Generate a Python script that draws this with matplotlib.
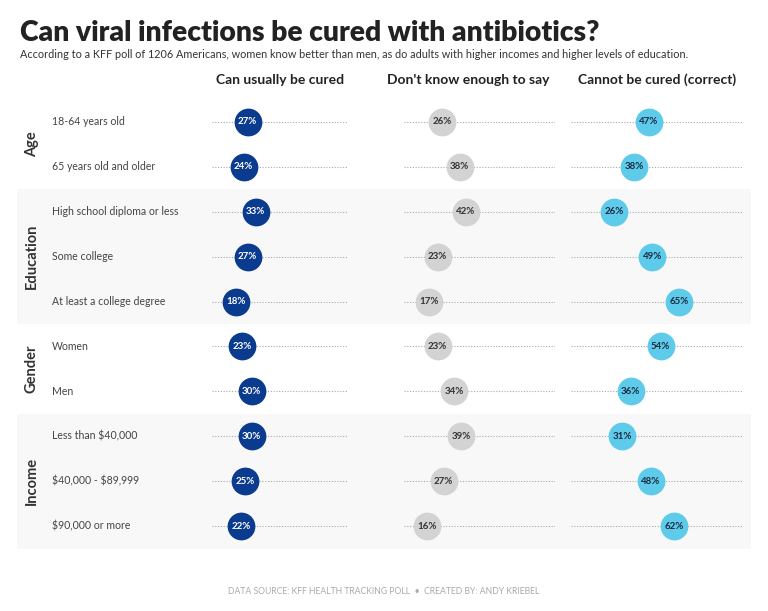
import matplotlib
matplotlib.use("Agg")
import matplotlib.pyplot as plt

plt.rcParams['font.family'] = ['Lato', 'DejaVu Sans']
plt.rcParams['text.parse_math'] = False

groups = ["Age", "Education", "Gender", "Income"]
group_sizes = [2, 3, 2, 3]
categories = ["18-64 years old", "65 years old and older",
              "High school diploma or less", "Some college", "At least a college degree",
              "Women", "Men",
              "Less than $40,000", "$40,000 - $89,999", "$90,000 or more"]
can_be_cured = [27, 24, 33, 27, 18, 23, 30, 30, 25, 22]
dont_know = [26, 38, 42, 23, 17, 23, 34, 39, 27, 16]
cannot_be_cured = [47, 38, 26, 49, 65, 54, 36, 31, 48, 62]
columns = ["Can usually be cured", "Don't know enough to say", "Cannot be cured (correct)"]

W, H = 768, 611
fig = plt.figure(figsize=(W / 100, H / 100), dpi=100)
fig.patch.set_facecolor('white')

def fx(px):
    return px / W

def fy(py):
    return 1 - py / H

top_px, bot_px = 99.5, 548.5
n = len(categories)

# background axes
bg = fig.add_axes([fx(17), fy(bot_px), fx(751) - fx(17), fy(top_px) - fy(bot_px)])
bg.set_xlim(0, 1)
bg.set_ylim(n - 0.5, -0.5)
bg.axis('off')
start = 0
for gi, (g, s) in enumerate(zip(groups, group_sizes)):
    if gi % 2 == 1:
        bg.axhspan(start - 0.5, start + s - 0.5, color='#f8f8f8', lw=0, zorder=0)
    bg.text((32 - 17) / (751 - 17), start + (s - 1) / 2, g, rotation=90,
            ha='center', va='center', fontsize=10.5, fontweight='bold', color='#333333')
    start += s
for i, c in enumerate(categories):
    bg.text((52 - 17) / (751 - 17), i, c, ha='left', va='center', fontsize=7.6, color='#444444')

panels = [(212, 348, can_be_cured, '#0b3b8e', 'white'),
          (404, 555, dont_know, '#d3d3d3', '#333333'),
          (571, 742, cannot_be_cured, '#5fcbeb', '#1a2a40')]
ys = list(range(n))
for (x0, x1, vals, col, tcol) in panels:
    ax = fig.add_axes([fx(x0), fy(bot_px), fx(x1) - fx(x0), fy(top_px) - fy(bot_px)])
    ax.set_xlim(0, 103)
    ax.set_ylim(n - 0.5, -0.5)
    ax.axis('off')
    ax.patch.set_alpha(0)
    for y in ys:
        ax.plot([0, 103], [y, y], linestyle=(0, (1, 1.5)), color='#aaaaaa', lw=0.8, zorder=1)
    ax.scatter(vals, ys, s=400, color=col, zorder=3, linewidths=0, clip_on=False)
    for v, y in zip(vals, ys):
        ax.text(v, y, f"{v}%", ha='center', va='center', fontsize=7, fontweight='bold',
                color=tcol, zorder=4)

header_x = [280, 468, 657]
for hx, h in zip(header_x, columns):
    fig.text(fx(hx), fy(80), h, ha='center', va='center', fontsize=10, fontweight='bold',
             color='#222222')

fig.text(fx(20), fy(33), "Can viral infections be cured with antibiotics?", ha='left', va='center',
         fontsize=20.3, fontweight='heavy', color='#222222')
fig.text(fx(20), fy(55), "According to a KFF poll of 1206 Americans, women know better than men, as do adults with higher incomes and higher levels of education.",
         ha='left', va='center', fontsize=7.85, color='#333333')
fig.text(fx(384), fy(591), "DATA SOURCE: KFF HEALTH TRACKING POLL  \u2022  CREATED BY: ANDY KRIEBEL",
         ha='center', va='center', fontsize=6.2, color='#aaaaaa')

fig.savefig("out.png", dpi=100, facecolor='white')
